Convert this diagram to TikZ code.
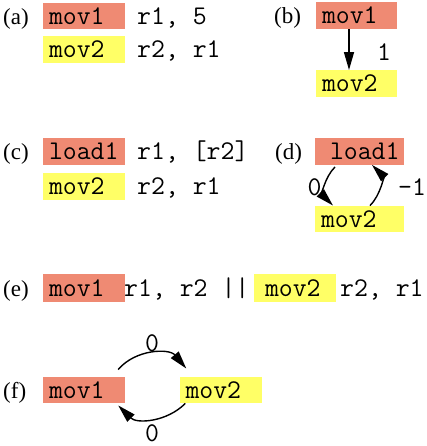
\documentclass[tikz,border=0pt]{standalone}
\usepackage{fontspec}
\setmainfont{Liberation Serif}
\usetikzlibrary{arrows.meta,calc}
\definecolor{salmonbox}{RGB}{239,138,115}
\definecolor{yellowbox}{RGB}{255,255,102}
\begin{document}
\begin{tikzpicture}[x=1pt,y=1pt,
  code/.style={font=\ttfamily\fontsize{27}{28}\selectfont, inner sep=0pt},
  lab/.style={font=\fontsize{23}{26}\selectfont, inner sep=0pt, anchor=base west},
  txt/.style={code, anchor=base west},
  box/.style={code, inner xsep=6pt, text width=#1, align=left, minimum height=26.5pt},
  box/.default=70pt,
  redbox/.style={box=#1, fill=salmonbox},
  redbox/.default=70pt,
  yellowbox/.style={box=#1, fill=yellowbox},
  yellowbox/.default=70pt,
  arr/.style={-{Triangle[length=18pt,width=10pt]}, line width=1.4pt}]
\useasboundingbox (0,0) rectangle (427,446);
\coordinate (cl) at (3,0);
\coordinate (ct) at (137,0);
% (a)
\node[redbox] (a1) at (84,430) {mov1};
\node[yellowbox] (a2) at (84,396.5) {mov2};
\node[txt] (a1t) at (ct |- a1.base) {r1, 5};
\node[txt] (a2t) at (ct |- a2.base) {r2, r1};
\node[lab] (la) at (cl |- a1.base) {(a)};
% (b)
\node[redbox=69pt] (b1) at (356.5,430.5) {mov1};
\node[yellowbox=69pt] (b2) at (356.5,362.5) {mov2};
\coordinate (lbx) at (274,0);
\node[lab] (lb) at (lbx |- b1.base) {(b)};
\coordinate (bx) at (349,0);
\draw[arr] (b1.south -| bx) -- (b2.north -| bx);
\node[code] (b12) at (384,394) {1};
% (c)
\node[redbox] (c1) at (84,294.5) {load1};
\node[yellowbox] (c2) at (84,259.5) {mov2};
\node[txt] (c1t) at (ct |- c1.base) {r1, [r2]};
\node[txt] (c2t) at (ct |- c2.base) {r2, r1};
\node[lab] (lc) at (cl |- c1.base) {(c)};
% (d)
\node[redbox=77pt] (d1) at (359.5,294.5) {\hspace*{9pt}load1};
\node[yellowbox=77pt] (d2) at (359.5,227) {mov2};
\coordinate (ldx) at (275,0);
\node[lab] (ld) at (ldx |- d1.base) {(d)};
\draw[arr] ($(d1.south)+(-24.5,-2)$) to[out=-135,in=135] ($(d2.north)+(-26.5,0)$);
\draw[arr] ($(d2.north)+(10.5,0)$) to[out=45,in=-45] ($(d1.south)+(12.5,0)$);
\node[code] (d0) at (314.5,259) {0};
\node[code] (dm) at (412,259) {-1};
% (e)
\node[redbox, minimum height=28pt] (e1) at (84,158) {mov1};
\coordinate (ex1) at (124,0);
\node[txt] (e1t) at (ex1 |- e1.base) {r1, r2 ||};
\node[yellowbox, minimum height=28pt] (e2) at (295,158) {\hspace*{5pt}mov2};
\coordinate (ex2) at (340,0);
\node[txt] (e2t) at (ex2 |- e2.base) {r2, r1};
\node[lab] (le) at (cl |- e1.base) {(e)};
% (f)
\node[redbox] (f1) at (84,56) {mov1};
\node[yellowbox] (f2) at (220.5,56) {mov2};
\node[lab] (lf) at (cl |- f1.base) {(f)};
\draw[arr] ($(f1.north east)+(-7,7)$) to[out=50,in=130] ($(f2.north west)+(7,8)$);
\draw[arr] ($(f2.south west)+(6,0)$) to[out=-135,in=-45] ($(f1.south east)+(-7,-2)$);
\node[code] (ft) at (152,103) {0};
\node[code] (fb) at (152,12.5) {0};
\end{tikzpicture}
\end{document}
